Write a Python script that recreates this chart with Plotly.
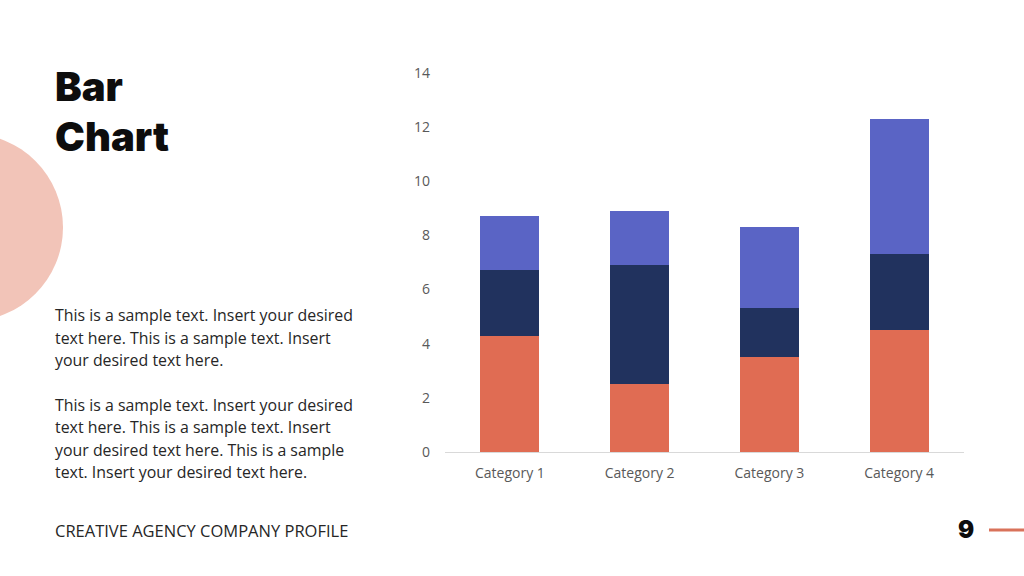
import plotly.graph_objects as go

categories = ["Category 1", "Category 2", "Category 3", "Category 4"]
series1 = [4.3, 2.5, 3.5, 4.5]
series2 = [2.4, 4.4, 1.8, 2.8]
series3 = [2.0, 2.0, 3.0, 5.0]
y_ticks = [0, 2, 4, 6, 8, 10, 12, 14]

colors = ["#E06C53", "#21325E", "#5A64C5"]
W, H = 1024, 576
# the rendered figure area observed: ~558 px tall, starting ~9 px from the top
Y0, HE = 9.3, 557.8

fig = go.Figure()
for name, vals, c in zip(["Series 1", "Series 2", "Series 3"], [series1, series2, series3], colors):
    fig.add_trace(go.Bar(x=categories, y=vals, name=name, marker=dict(color=c, line=dict(width=0)), width=0.455))

def px_x(x):
    return x / W

def px_y(y):
    return 1 - (y - Y0) / HE

fig.update_layout(
    width=W, height=H, autosize=False, margin=dict(l=0, r=0, t=0, b=0, pad=0),
    paper_bgcolor="white", plot_bgcolor="white",
    barmode="stack", showlegend=False,
    font=dict(family="Open Sans", color="#595959"),
    xaxis=dict(domain=[px_x(445), px_x(964)], showgrid=False, showline=True, linecolor="#D9D9D9",
               linewidth=1, ticks="", ticklabelstandoff=8,
               tickfont=dict(size=14, color="#595959"), fixedrange=True),
    yaxis=dict(domain=[px_y(452), px_y(72)], range=[0, 14], tickvals=y_ticks, showgrid=False,
               showline=False, zeroline=False, ticks="", ticklabelstandoff=14,
               tickfont=dict(size=14, color="#595959")),
)

# decorative circle
fig.add_shape(type="circle", xref="paper", yref="paper",
              x0=px_x(-125), x1=px_x(63), y0=px_y(321), y1=px_y(133),
              fillcolor="#F2C4B8", line=dict(width=0), layer="below")
# footer line
fig.add_shape(type="line", xref="paper", yref="paper",
              x0=px_x(989), x1=px_x(1024), y0=px_y(530), y1=px_y(530),
              line=dict(color="#D9725A", width=3))

def text(x, y, s, size, color="#262626", weight="normal", family="Open Sans"):
    fig.add_annotation(xref="paper", yref="paper", x=px_x(x), y=px_y(y), text=s,
                       showarrow=False, xanchor="left", yanchor="middle",
                       font=dict(size=size, color=color, family=family, weight=weight))

text(53, 86, "Bar", 40, "#0D0D0D", 900, "Inter")
text(53, 136, "Chart", 40, "#0D0D0D", 900, "Inter")

lines1 = ["This is a sample text. Insert your desired",
          "text here. This is a sample text. Insert",
          "your desired text here."]
lines2 = ["This is a sample text. Insert your desired",
          "text here. This is a sample text. Insert",
          "your desired text here. This is a sample",
          "text. Insert your desired text here."]
for i, s in enumerate(lines1):
    text(53, 315 + i * 22.3, s, 15.9)
for i, s in enumerate(lines2):
    text(53, 405 + i * 22.3, s, 15.9)

text(53, 531, "CREATIVE AGENCY COMPANY PROFILE", 16.5)
text(956, 530, "9", 24, "#0D0D0D", 900, "Inter")

fig.write_html("out.html", config={"responsive": False},
               post_script="document.body.style.margin='0';document.body.style.overflow='hidden';")
